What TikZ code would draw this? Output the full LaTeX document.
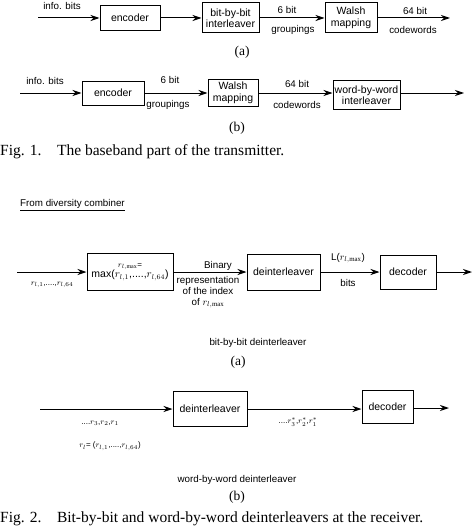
\documentclass[tikz,border=0pt]{standalone}
\usepackage{fontspec}
\setmainfont{Liberation Serif}
\setsansfont{Liberation Sans}
\usetikzlibrary{arrows.meta}
\begin{document}
\begin{tikzpicture}[x=1pt,y=-1pt,
  blk/.style={draw, line width=1pt, font=\sffamily\fontsize{10.5}{11.5}\selectfont, align=center, inner sep=0pt},
  lbl/.style={font=\sffamily\fontsize{9.8}{11}\selectfont, align=center, inner sep=0pt},
  sml/.style={font=\sffamily\fontsize{8}{9}\selectfont, align=center, inner sep=0pt},
  captext/.style={font=\fontsize{13.5}{15}\selectfont, inner sep=0pt},
  figcap/.style={font=\fontsize{15.5}{17}\selectfont, inner sep=0pt, anchor=west},
  conn/.style={-{Stealth[length=9pt,width=6pt]}, line width=1pt}]
\useasboundingbox (0,0) rectangle (474,527);

% ---------- Fig. 1 (a)
\coordinate (a1in) at (38,18);
\node[blk, minimum width=60, minimum height=25] (a1enc) at (130,18) {encoder};
\node[blk, minimum width=57, minimum height=30] (a1bbb) at (230.5,18) {bit-by-bit\\interleaver};
\node[blk, minimum width=52, minimum height=30] (a1walsh) at (351,18) {Walsh\\mapping};
\coordinate (a1out) at (450,18);
\draw[conn] (a1in) -- (a1enc);
\draw[conn] (a1enc) -- (a1bbb);
\draw[conn] (a1bbb) -- (a1walsh);
\draw[conn] (a1walsh) -- (a1out);
\node[lbl] (a1l1) at (62,6) {info. bits};
\node[lbl] (a1l2) at (287,10) {6 bit};
\node[lbl] (a1l3) at (293,30) {groupings};
\node[lbl] (a1l4) at (415,11) {64 bit};
\node[lbl] (a1l5) at (413,30) {codewords};
\node[captext] (a1cap) at (242,52) {(a)};

% ---------- Fig. 1 (b)
\coordinate (b1in) at (20,93);
\node[blk, minimum width=62, minimum height=24] (b1enc) at (113,93) {encoder};
\node[blk, minimum width=50, minimum height=27] (b1walsh) at (233,93) {Walsh\\mapping};
\node[blk, minimum width=67, minimum height=29] (b1wbw) at (366.5,95) {word-by-word\\interleaver};
\coordinate (b1out) at (464,93);
\draw[conn] (b1in) -- (b1enc);
\draw[conn] (b1enc) -- (b1walsh);
\draw[conn] (b1walsh.east) -- (b1walsh.east -| b1wbw.west);
\draw[conn] (b1wbw.east |- b1out) -- (b1out);
\node[lbl] (b1l1) at (45,81) {info. bits};
\node[lbl] (b1l2) at (170,80) {6 bit};
\node[lbl] (b1l3) at (168,105) {groupings};
\node[lbl] (b1l4) at (297,84) {64 bit};
\node[lbl] (b1l5) at (297,105) {codewords};
\node[captext] (b1cap) at (237,128) {(b)};
\node[figcap] (fig1) at (0,152) {Fig. 1.\quad The baseband part of the transmitter.};

% ---------- Fig. 2
\node[lbl, anchor=west] (from) at (20,205) {\underline{From diversity combiner}};

% ---------- Fig. 2 (a)
\coordinate (c1in) at (17,272);
\node[blk, minimum width=86, minimum height=37] (c1max) at (130,272) {%
  {\fontsize{8}{9}\selectfont $r_{l,\mathrm{max}}$=}\\[-1pt]max($r_{l,1}$,....,$r_{l,64}$)};
\node[blk, minimum width=73, minimum height=36] (c1deint) at (283.5,272) {deinterleaver};
\node[blk, minimum width=56, minimum height=34] (c1dec) at (408,272) {decoder};
\coordinate (c1out) at (472,272);
\draw[conn] (c1in) -- (c1max);
\draw[conn] (c1max) -- (c1deint);
\draw[conn] (c1deint) -- (c1dec);
\draw[conn] (c1dec) -- (c1out);
\node[sml] (c1l1) at (52,285) {$r_{l,1}$,....,$r_{l,64}$};
\node[lbl] (c1l2) at (218,266) {Binary};
\node[lbl, anchor=north] (c1l3) at (208,276) {representation\\of the index\\of $r_{l,\mathrm{max}}$};
\node[lbl] (c1l4) at (348,258) {L($r_{l,\mathrm{max}}$)};
\node[lbl] (c1l5) at (348,283) {bits};
\node[lbl] (c1l6) at (258,343) {bit-by-bit deinterleaver};
\node[captext] (c1cap) at (238,362) {(a)};

% ---------- Fig. 2 (b)
\coordinate (d1in) at (40,409);
\node[blk, minimum width=74, minimum height=35] (d1deint) at (210,409) {deinterleaver};
\node[blk, minimum width=51, minimum height=33] (d1dec) at (387.5,407) {decoder};
\coordinate (d1out) at (449,408);
\draw[conn] (d1in) -- (d1deint);
\draw[conn] (d1deint.east) -- (d1deint.east -| d1dec.west);
\draw[conn] (d1dec.east |- d1out) -- (d1out);
\node[sml] (d1l1) at (100,423) {....$r_3$,$r_2$,$r_1$};
\node[sml] (d1l2) at (110,446) {$r_l$= ($r_{l,1}$,....,$r_{l,64}$)};
\node[sml] (d1l3) at (298,422) {....$r^*_3$,$r^*_2$,$r^*_1$};
\node[lbl] (d1l4) at (237,480) {word-by-word deinterleaver};
\node[captext] (d1cap) at (237,497) {(b)};
\node[figcap] (fig2) at (0,519) {Fig. 2.\quad Bit-by-bit and word-by-word deinterleavers at the receiver.};
\end{tikzpicture}
\end{document}
